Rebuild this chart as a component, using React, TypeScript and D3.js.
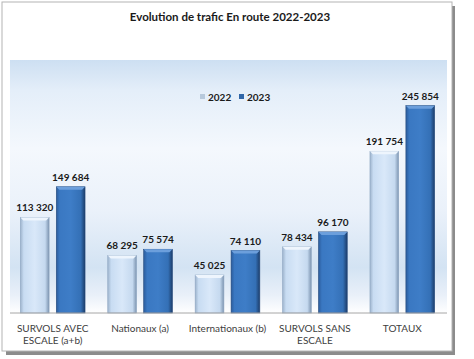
import React, { useRef, useEffect } from "react";
import * as d3 from "d3";

// chart data
const categories = ["SURVOLS AVEC\nESCALE (a+b)", "Nationaux (a)", "Internationaux (b)", "SURVOLS SANS\nESCALE", "TOTAUX"];
const seriesNames = ["2022", "2023"];
const values2022 = [113320, 68295, 45025, 78434, 191754];
const values2023 = [149684, 75574, 74110, 96170, 245854];
const yDomain = [0, 300000];

const W = 474, H = 359;

function App() {
  const ref = useRef<SVGSVGElement>(null);

  useEffect(() => {
    const svg = d3.select(ref.current);
    svg.selectAll("*").remove();

    const plot = { left: 10, right: 447, top: 60, bottom: 313 };
    const font = "Lato, 'Open Sans', sans-serif";

    const defs = svg.append("defs");

    // background gradient of the plot area
    const bg = defs.append("linearGradient").attr("id", "bg").attr("x1", 0).attr("y1", 0).attr("x2", 0).attr("y2", 1);
    [[0, "#cddff2"], [0.12, "#e4eef9"], [0.35, "#f4f8fd"], [0.6, "#eaf1fa"], [0.82, "#d3e3f3"], [0.93, "#e9f0f9"], [1, "#ffffff"]]
      .forEach(([o, c]) => bg.append("stop").attr("offset", o as number).attr("stop-color", c as string));

    const g22 = defs.append("linearGradient").attr("id", "g22").attr("x1", 0).attr("y1", 0).attr("x2", 1).attr("y2", 0);
    [[0, "#9db3cc"], [0.12, "#c8dcf2"], [0.5, "#d9e8f9"], [0.86, "#c5d9ef"], [1, "#7c94b0"]]
      .forEach(([o, c]) => g22.append("stop").attr("offset", o as number).attr("stop-color", c as string));

    const g23 = defs.append("linearGradient").attr("id", "g23").attr("x1", 0).attr("y1", 0).attr("x2", 1).attr("y2", 0);
    [[0, "#2b5c9c"], [0.12, "#3a78c2"], [0.5, "#3e7dc7"], [0.85, "#3470b6"], [1, "#1c3d6a"]]
      .forEach(([o, c]) => g23.append("stop").attr("offset", o as number).attr("stop-color", c as string));

    // frame with shadow
    svg.append("rect").attr("x", 6).attr("y", 6).attr("width", 449).attr("height", 349).attr("fill", "#8c8c8c");
    svg.append("rect").attr("x", 2).attr("y", 2).attr("width", 450).attr("height", 349)
      .attr("fill", "#ffffff").attr("stroke", "#b4b4b4").attr("stroke-width", 1);

    svg.append("rect").attr("x", plot.left).attr("y", plot.top)
      .attr("width", plot.right - plot.left).attr("height", plot.bottom - plot.top)
      .attr("fill", "url(#bg)");

    const x0 = d3.scaleBand<string>().domain(categories).range([9, 446]).paddingInner(0.26).paddingOuter(0.13);
    const x1 = d3.scaleBand<string>().domain(seriesNames).range([0, x0.bandwidth()]).paddingInner(0.2);
    const y = d3.scaleLinear().domain(yDomain).range([plot.bottom, plot.top]);

    const fmt = (v: number) => d3.format(",")(v).replace(/,/g, " ");

    const rows = categories.map((c, i) => ({ cat: c, vals: [values2022[i], values2023[i]] }));

    const groups = svg.append("g").selectAll("g").data(rows).enter().append("g")
      .attr("transform", d => `translate(${x0(d.cat)},0)`);

    const bars = groups.selectAll("g.bar")
      .data(d => d.vals.map((v, j) => ({ s: seriesNames[j], v })))
      .enter().append("g").attr("class", "bar");

    bars.append("rect")
      .attr("x", d => x1(d.s)!)
      .attr("y", d => y(d.v))
      .attr("width", x1.bandwidth())
      .attr("height", d => plot.bottom - y(d.v))
      .attr("fill", d => d.s === "2022" ? "url(#g22)" : "url(#g23)")
      .attr("stroke", d => d.s === "2022" ? "#8ea6c2" : "#24497c")
      .attr("stroke-width", 0.6);

    // top bevel
    bars.append("path")
      .attr("d", d => {
        const xl = x1(d.s)!, xr = xl + x1.bandwidth(), yt = y(d.v);
        return `M${xl},${yt} L${xr},${yt} L${xr - 3},${yt + 3} L${xl + 3},${yt + 3} Z`;
      })
      .attr("fill", d => d.s === "2022" ? "#eef5fd" : "#6c9fdc");

    bars.append("text")
      .attr("x", d => x1(d.s)! + x1.bandwidth() / 2)
      .attr("y", d => y(d.v) - 6)
      .attr("text-anchor", "middle")
      .attr("font-family", font)
      .attr("font-weight", "bold")
      .attr("font-size", 10)
      .attr("fill", "#1a1a1a")
      .text(d => fmt(d.v));

    // baseline
    svg.append("line").attr("x1", plot.left).attr("x2", plot.right)
      .attr("y1", plot.bottom).attr("y2", plot.bottom)
      .attr("stroke", "#a6a6a6").attr("stroke-width", 1);

    // category labels
    const catText = svg.append("g").selectAll("text").data(categories).enter().append("text")
      .attr("x", d => x0(d)! + x0.bandwidth() / 2)
      .attr("y", 331.5)
      .attr("text-anchor", "middle")
      .attr("font-family", font)
      .attr("font-size", 10)
      .attr("fill", "#404040");
    catText.each(function (d) {
      const lines = d.split("\n");
      const t = d3.select(this);
      lines.forEach((l, k) => {
        t.append("tspan").attr("x", x0(d)! + x0.bandwidth() / 2).attr("dy", k === 0 ? 0 : 12).text(l);
      });
    });

    // title
    svg.append("text").attr("x", 230).attr("y", 21)
      .attr("text-anchor", "middle")
      .attr("font-family", font).attr("font-weight", "bold").attr("font-size", 11.5)
      .attr("fill", "#1a1a1a")
      .text("Evolution de trafic En route 2022-2023");

    // legend
    const legendX = [200, 239];
    const legend = svg.append("g").selectAll("g").data(seriesNames).enter().append("g")
      .attr("transform", (d, i) => `translate(${legendX[i]},97)`);
    legend.append("rect").attr("x", 0).attr("y", -3).attr("width", 5).attr("height", 5)
      .attr("fill", d => d === "2022" ? "#b7c9dc" : "#2f66a8");
    legend.append("text").attr("x", 8).attr("y", 3.5)
      .attr("font-family", font).attr("font-weight", "bold").attr("font-size", 10)
      .attr("fill", "#1a1a1a").text(d => d);
  }, []);

  return (
    <svg ref={ref} width={W} height={H} style={{ position: "absolute", left: 0, top: 0, background: "#ffffff" }} />
  );
}

export default App;
